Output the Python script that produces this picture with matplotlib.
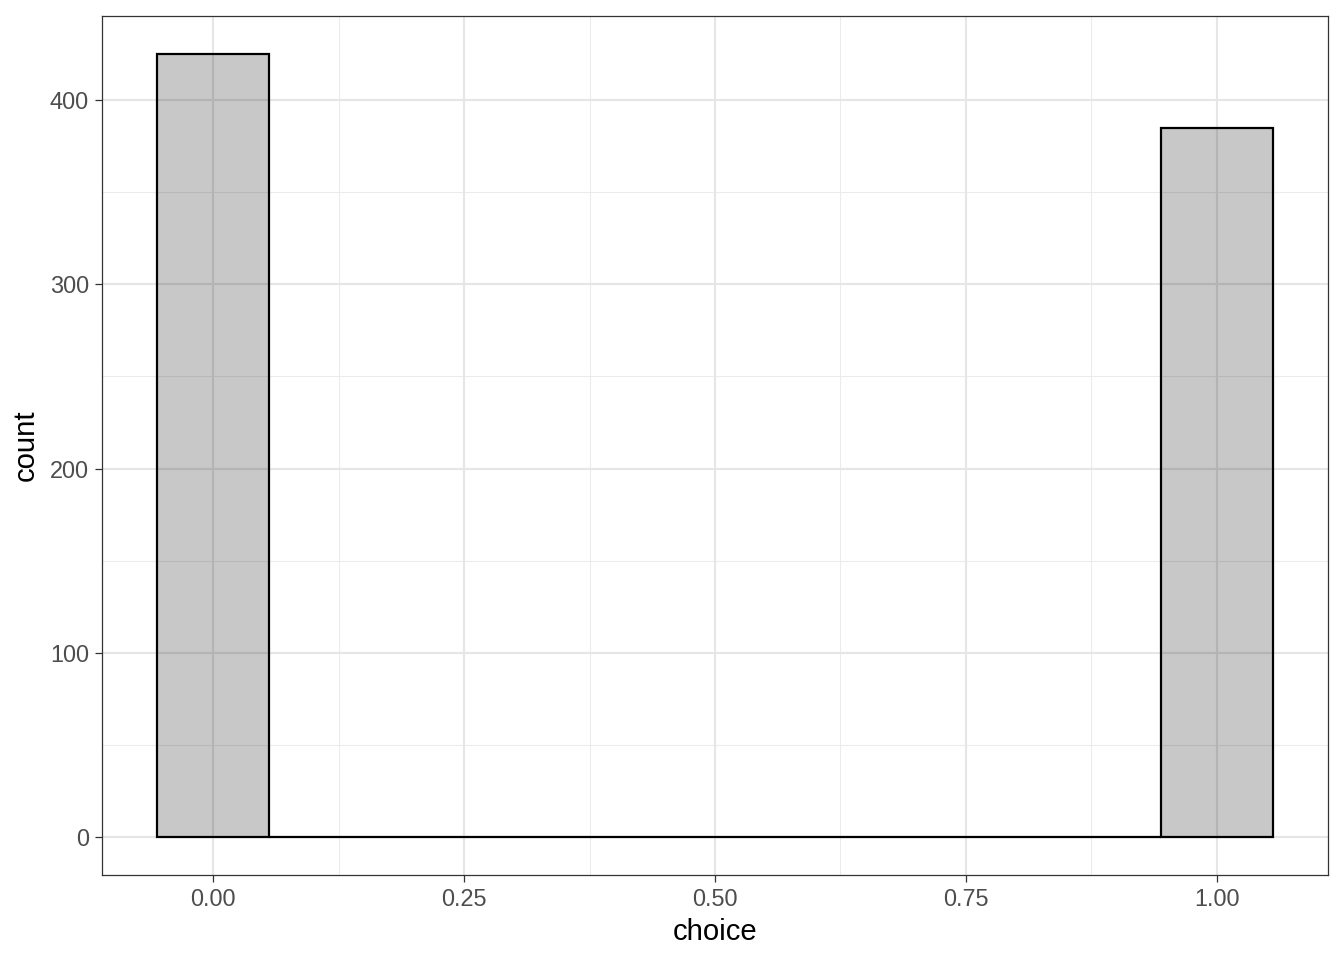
import matplotlib
matplotlib.use("Agg")
import matplotlib.pyplot as plt
import numpy as np

# histogram of choice: 10 bins spanning the two observed values
bin_edges = np.linspace(-1 / 18, 1 + 1 / 18, 11)
bin_counts = [425, 0, 0, 0, 0, 0, 0, 0, 0, 385]

x_ticks = [0.0, 0.25, 0.5, 0.75, 1.0]
x_tick_labels = ["0.00", "0.25", "0.50", "0.75", "1.00"]
y_ticks = [0, 100, 200, 300, 400]

plt.rcParams["font.family"] = ["Liberation Sans", "DejaVu Sans"]

figure = plt.figure(figsize=(13.44, 9.6), dpi=100)
axis = figure.add_axes([102 / 1344, 1 - 875 / 960, (1328 - 102) / 1344, (875 - 16) / 960])

# ggplot-style grid: major and minor lines
x_minor = [-0.125, 0.125, 0.375, 0.625, 0.875, 1.125]
y_minor = [50, 150, 250, 350]
for xv in x_minor:
    axis.axvline(xv, color="#EBEBEB", linewidth=0.75, zorder=0)
for yv in y_minor:
    axis.axhline(yv, color="#EBEBEB", linewidth=0.75, zorder=0)
for xv in x_ticks:
    axis.axvline(xv, color="#E6E6E6", linewidth=1.5, zorder=0)
for yv in y_ticks:
    axis.axhline(yv, color="#E6E6E6", linewidth=1.5, zorder=0)

widths = np.diff(bin_edges)
axis.bar(
    bin_edges[:-1],
    bin_counts,
    width=widths,
    align="edge",
    facecolor=(0, 0, 0, 0.215),
    edgecolor="black",
    linewidth=1.6,
    zorder=2,
)

axis.set_xlim(-0.1106, 1.1106)
axis.set_ylim(-20.6, 445.6)
axis.set_xticks(x_ticks)
axis.set_xticklabels(x_tick_labels)
axis.set_yticks(y_ticks)

for spine in axis.spines.values():
    spine.set_color("#333333")
    spine.set_linewidth(0.9)
    spine.set_zorder(3)

axis.tick_params(
    axis="both", colors="#333333", labelcolor="#4D4D4D",
    labelsize=16.9, length=5.3, width=0.9,
)
axis.tick_params(axis="x", pad=4)
axis.tick_params(axis="y", pad=4)

axis.set_xlabel("choice", fontsize=21.1, color="black", labelpad=5)
axis.set_ylabel("count", fontsize=21.1, color="black", labelpad=7)

figure.savefig("out.png", dpi=100)
plt.close(figure)
